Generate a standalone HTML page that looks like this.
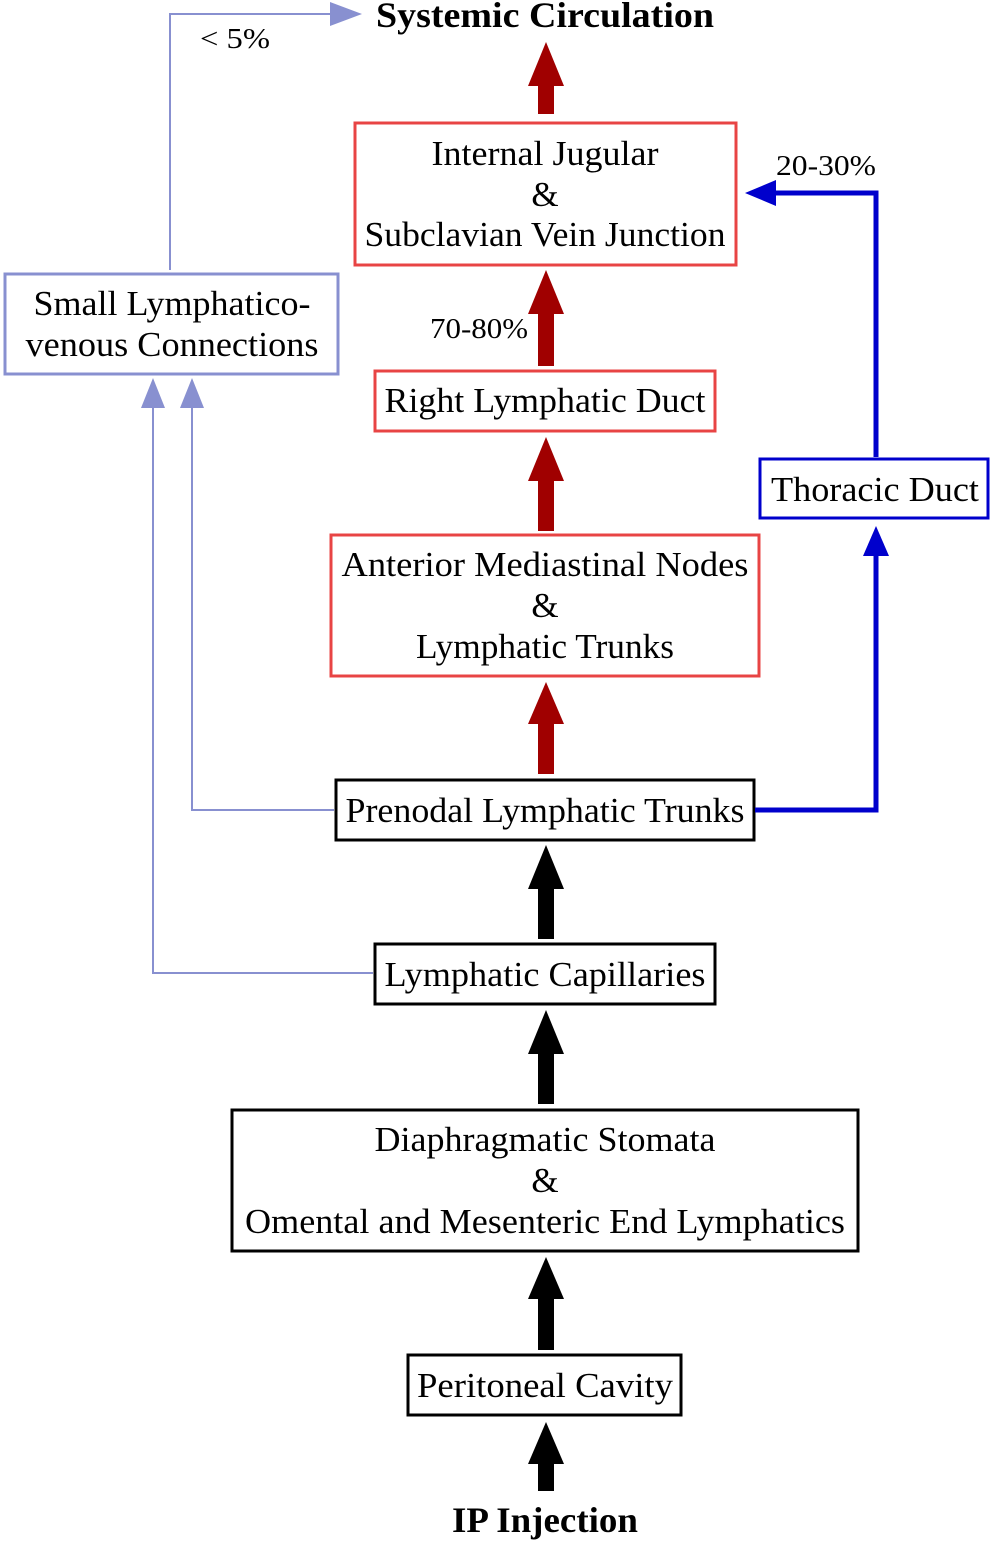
<!DOCTYPE html>
<html><head><meta charset="utf-8"><style>html,body{margin:0;padding:0;background:#fff}svg{display:block}</style></head>
<body>
<svg width="992" height="1543" viewBox="0 0 992 1543" xmlns="http://www.w3.org/2000/svg" font-family="'Liberation Serif', serif">
<g font-size="36" text-anchor="middle" fill="#000" font-weight="bold" lengthAdjust="spacingAndGlyphs">
<text x="545" y="27" textLength="338" lengthAdjust="spacingAndGlyphs">Systemic Circulation</text>
<text x="545" y="1532" textLength="186" lengthAdjust="spacingAndGlyphs">IP Injection</text>
</g>
<g fill="#a00000">
<rect x="538" y="80" width="16" height="34"/><polygon points="546,42 564,86 528,86"/>
<rect x="538" y="310" width="16" height="56"/><polygon points="546,270 564,314 528,314"/>
<rect x="538" y="478" width="16" height="53"/><polygon points="546,437 564,481 528,481"/>
<rect x="538" y="720" width="16" height="54"/><polygon points="546,682 564,724 528,724"/>
</g>
<g fill="#000">
<rect x="538" y="885" width="16" height="54"/><polygon points="546,845 564,889 528,889"/>
<rect x="538" y="1050" width="16" height="54"/><polygon points="546,1010 564,1054 528,1054"/>
<rect x="538" y="1296" width="16" height="54"/><polygon points="546,1257 564,1299 528,1299"/>
<rect x="538" y="1460" width="16" height="31"/><polygon points="546,1422 564,1464 528,1464"/>
</g>
<g fill="none" stroke-width="3">
<rect x="355" y="123" width="381" height="142" stroke="#e84444"/>
<rect x="375" y="371" width="340" height="60" stroke="#e84444"/>
<rect x="331" y="535" width="428" height="141" stroke="#e84444"/>
<rect x="336" y="780" width="418" height="60" stroke="#000"/>
<rect x="375" y="944" width="340" height="60" stroke="#000"/>
<rect x="232" y="1110" width="626" height="141" stroke="#000"/>
<rect x="408" y="1355" width="273" height="60" stroke="#000"/>
<rect x="5" y="274" width="333" height="100" stroke="#8890d0"/>
<rect x="760" y="459" width="228" height="59" stroke="#0000cc"/>
</g>
<g font-size="35" text-anchor="middle" fill="#000">
<text x="545" y="165" textLength="227" lengthAdjust="spacingAndGlyphs">Internal Jugular</text>
<text x="545" y="206">&amp;</text>
<text x="545" y="246" textLength="361" lengthAdjust="spacingAndGlyphs">Subclavian Vein Junction</text>
<text x="545" y="412" textLength="321" lengthAdjust="spacingAndGlyphs">Right Lymphatic Duct</text>
<text x="545" y="576" textLength="407" lengthAdjust="spacingAndGlyphs">Anterior Mediastinal Nodes</text>
<text x="545" y="617">&amp;</text>
<text x="545" y="658" textLength="258" lengthAdjust="spacingAndGlyphs">Lymphatic Trunks</text>
<text x="545" y="822" textLength="399" lengthAdjust="spacingAndGlyphs">Prenodal Lymphatic Trunks</text>
<text x="545" y="986" textLength="321" lengthAdjust="spacingAndGlyphs">Lymphatic Capillaries</text>
<text x="545" y="1151" textLength="341" lengthAdjust="spacingAndGlyphs">Diaphragmatic Stomata</text>
<text x="545" y="1192">&amp;</text>
<text x="545" y="1233" textLength="600" lengthAdjust="spacingAndGlyphs">Omental and Mesenteric End Lymphatics</text>
<text x="545" y="1397" textLength="256" lengthAdjust="spacingAndGlyphs">Peritoneal Cavity</text>
<text x="172" y="315" textLength="277" lengthAdjust="spacingAndGlyphs">Small Lymphatico-</text>
<text x="172" y="356" textLength="293" lengthAdjust="spacingAndGlyphs">venous Connections</text>
<text x="875" y="501" textLength="208" lengthAdjust="spacingAndGlyphs">Thoracic Duct</text>
</g>
<g font-size="28" fill="#000">
<text x="430" y="338" textLength="98" lengthAdjust="spacingAndGlyphs">70-80%</text>
<text x="776" y="175" textLength="100" lengthAdjust="spacingAndGlyphs">20-30%</text>
<text x="200" y="48" textLength="70" lengthAdjust="spacingAndGlyphs">&lt; 5%</text>
</g>
<g stroke="#8890d0" stroke-width="2" fill="none">
<polyline points="170,270 170,14 332,14"/>
<polyline points="192,406 192,810 334,810"/>
<polyline points="153,406 153,973 373,973"/>
</g>
<g fill="#8890d0">
<polygon points="362,14 330,2 330,26"/>
<polygon points="153,378 165,408 141,408"/>
<polygon points="192,378 204,408 180,408"/>
</g>
<g stroke="#0000cc" stroke-width="5" fill="none">
<polyline points="755,810 876,810 876,553"/>
<polyline points="876,457 876,193 773,193"/>
</g>
<g fill="#0000cc">
<polygon points="876,526 889,556 863,556"/>
<polygon points="745,193 776,180 776,206"/>
</g>
</svg>
</body></html>
